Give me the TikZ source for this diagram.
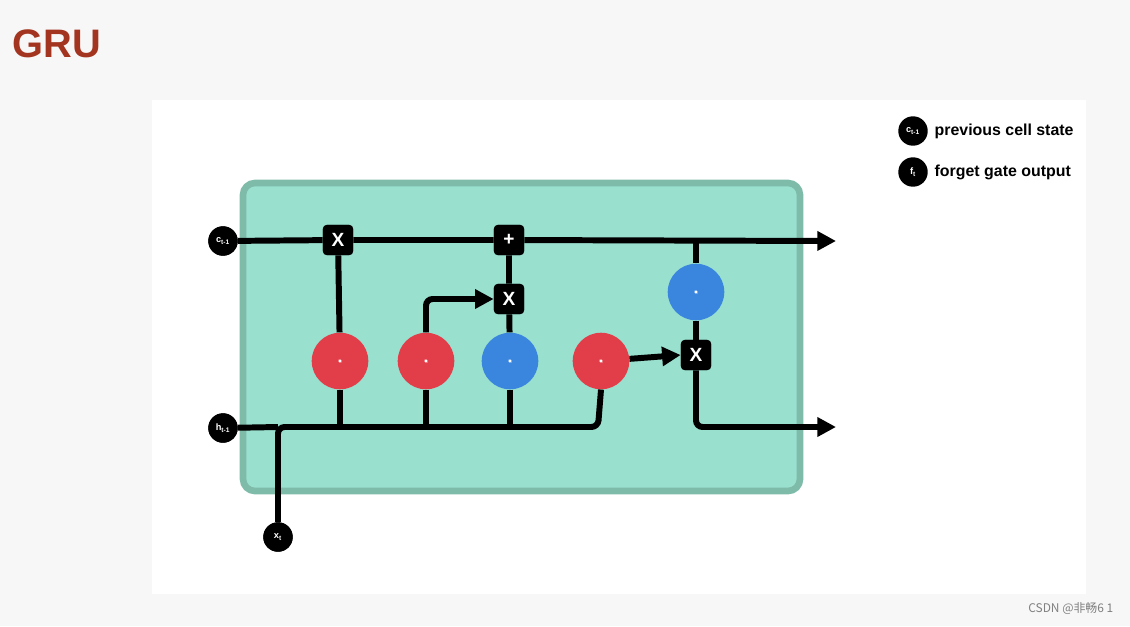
\documentclass[tikz,border=0pt]{standalone}
\usepackage{fontspec}
\setmainfont{Liberation Sans}
\newfontfamily\cjk{Noto Sans CJK SC}
\usetikzlibrary{arrows.meta}
\definecolor{sred}{HTML}{E23E4A}
\definecolor{sblue}{HTML}{3A86DF}
\definecolor{cellg}{HTML}{9AE0CF}
\definecolor{cellb}{HTML}{7FBBA9}
\definecolor{titr}{HTML}{A3341F}
\tikzset{
 px/.style={x=0.0265cm,y=-0.0265cm},
 wire/.style={line width=4.5pt,black,rounded corners=5pt},
 arr/.style={wire,-{Triangle[length=14pt,width=14pt]}},
 opbox/.style={fill=black,rounded corners=3pt,minimum size=0.8cm,inner sep=0,text=white,font=\bfseries\Large},
 sig/.style={circle,minimum size=1.5cm,inner sep=0},
 io/.style={circle,fill=black,minimum size=0.78cm,inner sep=0,text=white,font=\bfseries\scriptsize},
 legend/.style={font=\bfseries\large,anchor=west},
}
\newcommand{\scurve}[1]{\draw[white,line width=2.2pt,line cap=round] ($(#1)+(-0.38,-0.32)$) .. controls ($(#1)+(0.05,-0.32)$) and ($(#1)+(-0.05,0.32)$) .. ($(#1)+(0.38,0.32)$);}
\usetikzlibrary{calc}
\begin{document}
\begin{tikzpicture}[px]
\useasboundingbox (0,0) rectangle (1130,626);
\fill[gray!6] (0,0) rectangle (1130,626);
\fill[white] (152,100) rectangle (1086,594);
\node[anchor=west,text=titr,font=\bfseries\fontsize{30}{30}\selectfont] (title) at (8,44) {GRU};
\draw[cellb,line width=5pt,fill=cellg,rounded corners=9pt] (243,183) rectangle (800,491);
% nodes
\node[io] (c) at (223,241) {c\textsubscript{t-1}};
\node[io] (h) at (223,428) {h\textsubscript{t-1}};
\node[io] (x) at (278,537) {x\textsubscript{t}};
\coordinate (cend) at (836,241);
\coordinate (hend) at (836,427);
\node[opbox] (m1) at (338,240) {X};
\node[opbox] (p) at (509,240) {+};
\node[opbox] (m2) at (509,299) {X};
\node[opbox] (m3) at (696,355) {X};
\node[sig,fill=sred] (s1) at (340,361) {};
\node[sig,fill=sred] (s2) at (426,361) {};
\node[sig,fill=sblue] (s3) at (510,361) {};
\node[sig,fill=sred] (s4) at (601,361) {};
\node[sig,fill=sblue] (s5) at (696,292) {};
% wires
\draw[wire] (x) -- (278,427) -- (598,427) -- (s4.south);
\draw[wire] (h) -- (278,427);
\draw[wire] (s1.south) -- (s1.south|-h);
\draw[wire] (s2.south) -- (s2.south|-h);
\draw[wire] (s3.south) -- (s3.south|-h);
\draw[wire] (m1) -- (s1);
\draw[wire] (p) -- (m2) -- (s3);
\draw[arr] (s2.north) -- (426,299) -- (m2.west);
\draw[arr] (s4) -- (m3.west);
\draw[wire] (696,241) -- (s5) -- (m3);
\draw[arr] (m3.south) -- (696,427) -- (hend);
\draw[arr] (c) -- (m1) -- (p) -- (cend);
\node[opbox] at (338,240) {X};
\node[opbox] at (509,240) {+};
\node[opbox] at (509,299) {X};
\node[opbox] at (696,355) {X};
\node[io] at (223,241) {c\textsubscript{t-1}};
\node[io] at (223,428) {h\textsubscript{t-1}};
\node[io] at (278,537) {x\textsubscript{t}};
\foreach \s in {s1,s2,s3,s4,s5} {\scurve{\s}}
% legend
\node[io] (lc) at (913,131) {c\textsubscript{t-1}};
\node[io] (lf) at (913,172) {f\textsubscript{t}};
\node[legend] (lct) at (930,131) {previous cell state};
\node[legend] (lft) at (930,172) {forget gate output};
\node[anchor=east,text=gray,font=\cjk\small] (wm) at (1118,609) {CSDN @非畅6 1};
\end{tikzpicture}
\end{document}
